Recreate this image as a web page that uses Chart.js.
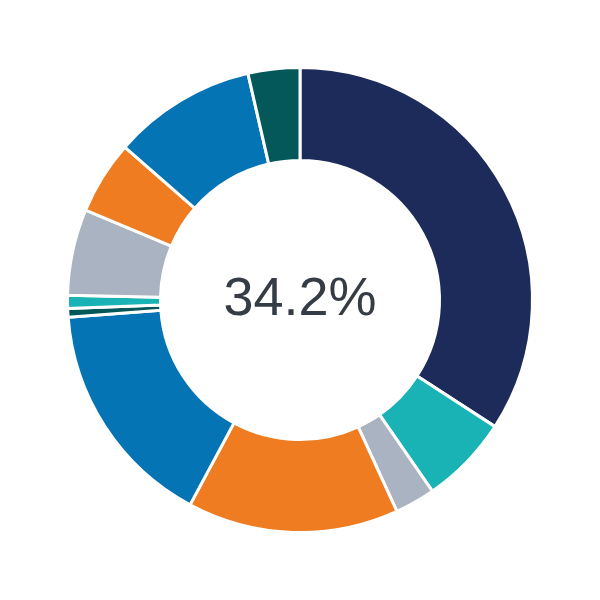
<!DOCTYPE html>
<html>
<head>
<meta charset="utf-8">
<script src="https://cdn.jsdelivr.net/npm/chart.js@4/dist/chart.umd.min.js"></script>
<style>
    html, body { margin: 0; padding: 0; background: #ffffff; }
    #wrap { width: 600px; height: 600px; }
</style>
</head>
<body>
<div id="wrap"><canvas id="donut" width="600" height="600"></canvas></div>
<script>
// Chart data (clockwise from 12 o'clock)
const categories = ['A', 'B', 'C', 'D', 'E', 'F', 'G', 'H', 'I', 'J', 'K'];
const shares = [34.2, 6.2, 2.8, 14.7, 16.0, 0.6, 0.9, 6.0, 5.1, 10.0, 3.6];
const centerLabel = '34.2%';

// Slice colours
const sliceColors = [
    '#1c2b5a', '#1ab3b5', '#a9b3c1', '#f07c22', '#0474b4',
    '#04585a', '#1ab3b5', '#a9b3c1', '#f07c22', '#0474b4', '#04585a'
];

// Center text plugin
const centerText = {
    id: 'centerText',
    afterDraw(chart) {
        const ctx = chart.ctx;
        const meta = chart.getDatasetMeta(0).data[0];
        ctx.save();
        ctx.font = '54px "Liberation Sans", Arial, sans-serif';
        ctx.fillStyle = '#363c45';
        ctx.textAlign = 'center';
        ctx.textBaseline = 'alphabetic';
        ctx.fillText(centerLabel, meta.x, meta.y + 15);
        ctx.restore();
    }
};

new Chart(document.getElementById('donut').getContext('2d'), {
    type: 'doughnut',
    data: {
        labels: categories,
        datasets: [{
            data: shares,
            backgroundColor: sliceColors,
            borderColor: '#ffffff',
            borderWidth: 3,
            hoverOffset: 0
        }]
    },
    options: {
        responsive: false,
        animation: false,
        cutout: '60%',
        layout: { padding: 66 },
        plugins: {
            legend: { display: false },
            tooltip: { enabled: false }
        }
    },
    plugins: [centerText]
});
</script>
</body>
</html>
